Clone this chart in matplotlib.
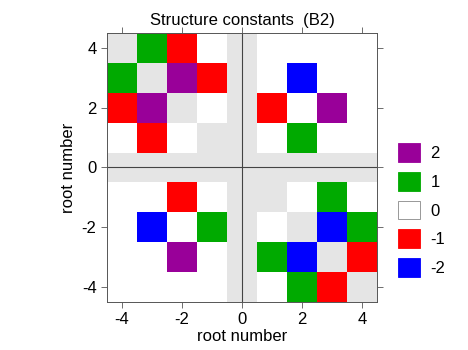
import numpy as np
import matplotlib
matplotlib.use("Agg")
import matplotlib.pyplot as plt
from matplotlib.colors import ListedColormap, BoundaryNorm
from matplotlib.patches import Patch

plt.rcParams["font.family"] = ["Liberation Sans", "DejaVu Sans"]
plt.rcParams["axes.unicode_minus"] = False

# root numbers on both axes
raices = [-4, -3, -2, -1, 0, 1, 2, 3, 4]
nan = np.nan
# filas de arriba (y=4) hacia abajo (y=-4); nan = sin valor (gris)
constantes = [
    [nan, 1, -1, 0, nan, 0, 0, 0, 0],
    [1, nan, 2, -1, nan, 0, -2, 0, 0],
    [-1, 2, nan, 0, nan, -1, 0, 2, 0],
    [0, -1, 0, nan, nan, 0, 1, 0, 0],
    [nan, nan, nan, nan, nan, nan, nan, nan, nan],
    [0, 0, -1, 0, nan, nan, 0, 1, 0],
    [0, -2, 0, 1, nan, 0, nan, -2, 1],
    [0, 0, 2, 0, nan, 1, -2, nan, -1],
    [0, 0, 0, 0, nan, 0, 1, -1, nan],
]
niveles = [2, 1, 0, -1, -2]
colores_nivel = ["#990099", "#00AA00", "#FFFFFF", "#FF0000", "#0000FF"]

fig = plt.figure(figsize=(4.68, 3.5), dpi=100)
ax = fig.add_axes([0.2286, 0.137, 0.577, 0.769])

datos = np.ma.masked_invalid(np.array(constantes, dtype=float)[::-1])
cmap = ListedColormap(colores_nivel[::-1])
cmap.set_bad("#E5E5E5")
norm = BoundaryNorm([-2.5, -1.5, -0.5, 0.5, 1.5, 2.5], cmap.N)
bordes = np.arange(raices[0] - 0.5, raices[-1] + 1.0, 1.0)
ax.pcolormesh(bordes, bordes, datos, cmap=cmap, norm=norm)

ax.axhline(0, color="#444444", lw=0.8)
ax.axvline(0, color="#444444", lw=0.8)

ax.set_xlim(-4.5, 4.5)
ax.set_ylim(-4.5, 4.5)
ax.set_xticks([-4, -2, 0, 2, 4])
ax.set_yticks([-4, -2, 0, 2, 4])
ax.tick_params(direction="out", length=4, width=0.6, color="#555555",
               top=True, right=True, labelsize=12)
for s in ax.spines.values():
    s.set_color("#555555")
    s.set_linewidth(0.7)

ax.set_title("Structure constants  (B2)", fontsize=12, pad=6)
ax.set_xlabel("root number", fontsize=12, labelpad=1)
ax.set_ylabel("root number", fontsize=12, labelpad=4)

handles = [Patch(facecolor=c, edgecolor="#888888" if c == "#FFFFFF" else c, lw=0.6)
           for c in colores_nivel]
fig.legend(handles, [str(n) for n in niveles], loc="center left",
           bbox_to_anchor=(0.85, 0.40), frameon=False, fontsize=12,
           handlelength=1.35, handleheight=1.35, labelspacing=0.6,
           handletextpad=0.6, borderpad=0, borderaxespad=0)

fig.savefig("out.png", dpi=100)
